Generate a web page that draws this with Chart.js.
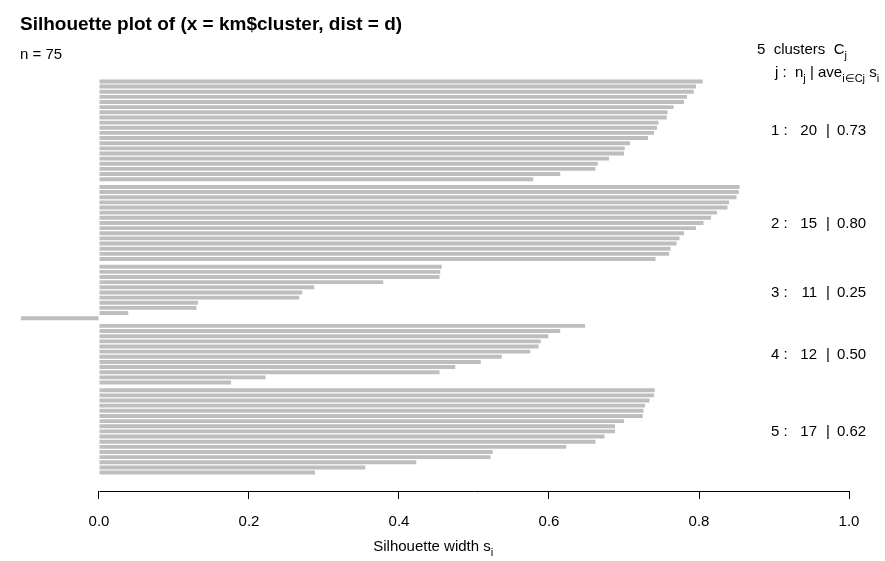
<!DOCTYPE html>
<html>
<head>
<meta charset="utf-8">
<script src="https://cdn.jsdelivr.net/npm/chart.js@4"></script>
<style>
  html, body { margin: 0; padding: 0; background: #fff; }
  canvas { display: block; }
</style>
</head>
<body>
<canvas id="silPlot" width="885" height="561"></canvas>
<script>
// silhouette widths per cluster, sorted as in the plot (top to bottom)
const sil1 = [0.805, 0.796, 0.793, 0.784, 0.780, 0.766, 0.758, 0.757, 0.746, 0.744,
              0.740, 0.732, 0.708, 0.701, 0.700, 0.680, 0.665, 0.662, 0.615, 0.579];
const sil2 = [0.854, 0.853, 0.850, 0.840, 0.838, 0.824, 0.816, 0.806, 0.796, 0.780,
              0.774, 0.770, 0.762, 0.760, 0.742];
const sil3 = [0.457, 0.455, 0.454, 0.379, 0.287, 0.271, 0.267, 0.132, 0.130, 0.039, -0.104];
const sil4 = [0.648, 0.615, 0.599, 0.589, 0.586, 0.575, 0.537, 0.509, 0.475, 0.454, 0.222, 0.176];
const sil5 = [0.741, 0.740, 0.734, 0.728, 0.726, 0.725, 0.700, 0.688, 0.688, 0.674,
              0.662, 0.623, 0.525, 0.522, 0.423, 0.355, 0.288];

const clusterIds = ['1', '2', '3', '4', '5'];
const clusterSizes = [20, 15, 11, 12, 17];
const clusterAvg = ['0.73', '0.80', '0.25', '0.50', '0.62'];
const xTicks = [0, 0.2, 0.4, 0.6, 0.8, 1.0];

const clusters = [sil1, sil2, sil3, sil4, sil5];
const gap = 0.5; // extra space between clusters, like barplot(space=)

// place bars one unit apart, half a unit more between clusters
const points = [];
const clusterMid = [];
let pos = 0;
clusters.forEach((vals, c) => {
  if (c > 0) pos += gap;
  const start = pos;
  vals.forEach(v => { points.push({ x: v, y: pos + 0.5 }); pos += 1; });
  clusterMid.push((start + pos) / 2);
});
const total = pos;

const FONT = '"Liberation Sans", Arial, sans-serif';

// draws a run of text pieces, some of them as subscripts
function drawRich(ctx, x, y, parts, size) {
  let cx = x;
  parts.forEach(([txt, sub]) => {
    const fs = sub ? Math.round(size * 0.72) : size;
    ctx.font = fs + 'px ' + FONT;
    ctx.fillText(txt, cx, sub ? y + size * 0.3 : y);
    cx += ctx.measureText(txt).width;
  });
  return cx - x;
}

const textPlugin = {
  id: 'silText',
  afterDraw(chart) {
    const ctx = chart.ctx;
    const xs = chart.scales.x, ys = chart.scales.y;
    const area = chart.chartArea;
    ctx.save();
    ctx.fillStyle = '#000';
    ctx.textBaseline = 'alphabetic';
    ctx.textAlign = 'left';

    // axis line only from 0 to 1
    ctx.strokeStyle = '#000';
    ctx.lineWidth = 1;
    ctx.beginPath();
    ctx.moveTo(Math.round(xs.getPixelForValue(0)) + 0.5, area.bottom + 0.5);
    ctx.lineTo(Math.round(xs.getPixelForValue(1)) + 0.5, area.bottom + 0.5);
    ctx.stroke();

    ctx.font = 'bold 19px ' + FONT;
    ctx.fillText('Silhouette plot of (x = km$cluster, dist = d)', 20, 30);
    ctx.font = '15px ' + FONT;
    ctx.fillText('n = 75', 20, 59);

    drawRich(ctx, 757, 54, [['5  clusters  C', false], ['j', true]], 15);
    drawRich(ctx, 775, 77, [['j :  n', false], ['j', true], [' | ave', false],
                            ['i\u2208Cj', true], [' s', false], ['i', true]], 15);

    ctx.font = '15px ' + FONT;
    clusterIds.forEach((id, c) => {
      const y = ys.getPixelForValue(clusterMid[c]) + 5;
      ctx.textAlign = 'left';
      ctx.fillText(id + ' :', 771, y);
      ctx.textAlign = 'right';
      ctx.fillText(String(clusterSizes[c]), 817, y);
      ctx.textAlign = 'left';
      ctx.fillText('|', 826, y);
      ctx.fillText(clusterAvg[c], 837, y);
    });

    // x axis title with subscript
    ctx.font = '15px ' + FONT;
    const w = ctx.measureText('Silhouette width s').width + 8;
    drawRich(ctx, 436 - w / 2, 551, [['Silhouette width s', false], ['i', true]], 15);
    ctx.restore();
  }
};

new Chart(document.getElementById('silPlot'), {
  type: 'bar',
  data: {
    datasets: [{
      data: points,
      backgroundColor: '#bebebe',
      borderWidth: 0,
      barPercentage: 0.76,
      categoryPercentage: 1.0
    }]
  },
  options: {
    indexAxis: 'y',
    responsive: false,
    animation: false,
    layout: { padding: { top: 63, left: 0, right: 0, bottom: 0 } },
    plugins: { legend: { display: false }, tooltip: { enabled: false }, title: { display: false } },
    scales: {
      y: {
        type: 'linear',
        reverse: true,
        offset: false,
        grid: { offset: false },
        min: -0.04 * total,
        max: total * 1.04,
        display: false
      },
      x: {
        type: 'linear',
        min: -0.132,
        max: 1.048,
        afterBuildTicks: s => { s.ticks = xTicks.map(v => ({ value: v })); },
        afterFit: s => { s.height = 70; },
        border: { display: false },
        grid: { drawOnChartArea: false, drawTicks: true, tickLength: 8, tickColor: '#000' },
        ticks: {
          color: '#000',
          padding: 14,
          maxRotation: 0,
          font: { family: FONT, size: 15 },
          callback: v => Number(v).toFixed(1)
        }
      }
    }
  },
  plugins: [textPlugin]
});
</script>
</body>
</html>
